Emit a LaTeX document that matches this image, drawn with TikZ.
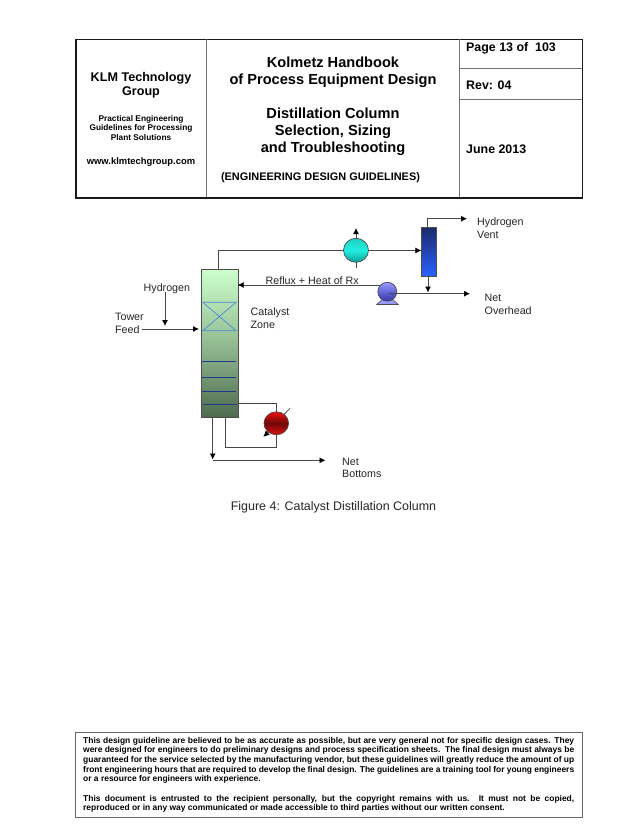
\documentclass[tikz,border=0pt]{standalone}
\usepackage{fontspec}
\setmainfont{Liberation Sans}
\usetikzlibrary{arrows.meta,shapes.geometric}
\newcommand{\fs}[2]{\fontsize{#1}{#2}\selectfont}
\definecolor{coltop}{HTML}{CCFFCC}
\definecolor{colmid}{HTML}{93BC93}
\definecolor{colbot}{HTML}{4E6A4E}
\definecolor{drumtop}{HTML}{1B2A6B}
\definecolor{drumbot}{HTML}{2A62FF}
\definecolor{traycol}{HTML}{1F3A8A}
\definecolor{packcol}{HTML}{4F86D8}
\definecolor{condtop}{HTML}{1CCFC4}
\definecolor{condmid}{HTML}{22F0E0}
\definecolor{condbot}{HTML}{0E9E98}
\definecolor{rebtop}{HTML}{F01010}
\definecolor{rebmid}{HTML}{6E0808}
\definecolor{rebbot}{HTML}{E01010}
\tikzset{
  x=1pt,y=-1pt,
  frame/.style={draw=black!90,line width=1.5pt},
  rule/.style={draw=black!55,line width=0.9pt},
  pipe/.style={draw=black!72,line width=0.8pt},
  flow/.style={pipe,-{Latex[length=6pt,width=6pt,black]}},
  lbl/.style={inner sep=0pt,align=left,text=black!85,font=\fs{10.7}{12.6}},
  hd/.style={inner sep=0pt,align=center,font=\bfseries\fs{14.6}{17}},
  hs/.style={inner sep=0pt,anchor=west,font=\bfseries\fs{12.4}{14}},
  tray/.style={draw=traycol,line width=0.8pt},
  pack/.style={draw=packcol,line width=0.7pt},
  vessel/.style={draw=black!70,line width=0.7pt,inner sep=0pt,minimum width=12pt}
}
\begin{document}
\begin{tikzpicture}
\useasboundingbox (0,0) rectangle (638,826);
\fill[white] (0,0) rectangle (638,826);
% header
\node[frame,inner sep=0pt,minimum width=506.7pt,minimum height=158.3pt,anchor=north west] (hbox) at (75,39) {};
\coordinate (v1t) at (206.7,39); \coordinate (v1b) at (206.7,197.3);
\coordinate (v2t) at (459.3,39); \coordinate (v2b) at (459.3,197.3);
\coordinate (h1l) at (459.3,68); \coordinate (h1r) at (581.7,68);
\coordinate (h2l) at (459.3,99); \coordinate (h2r) at (581.7,99);
\draw[rule] (v1t) -- (v1b);
\draw[rule] (v2t) -- (v2b);
\draw[rule] (h1l) -- (h1r);
\draw[rule] (h2l) -- (h2r);
\node[hd,font=\bfseries\fs{12.6}{14.3}] (t1) at (141,85) {KLM Technology\\Group};
\node[hd,font=\bfseries\fs{8.3}{9.6}] (t2) at (141,128) {Practical Engineering\\Guidelines for Processing\\Plant Solutions};
\node[hd,font=\bfseries\fs{9.4}{11}] (t3) at (141,162) {www.klmtechgroup.com};
\node[hd] (t4) at (333,72.3) {Kolmetz Handbook\\of Process Equipment Design};
\node[hd] (t5) at (333,131.8) {Distillation Column\\Selection, Sizing\\and Troubleshooting};
\node[hd,font=\bfseries\fs{10.95}{13}] (t6) at (320.5,177.3) {(ENGINEERING DESIGN GUIDELINES)};
\node[hs] (t7) at (466,48) {Page 13 of\ \ 103};
\node[hs] (t8) at (466,85) {Rev: 04};
\node[hs] (t9) at (466,149) {June 2013};
% column
\node[vessel,top color=coltop,bottom color=colbot,middle color=colmid,minimum width=36.7pt,minimum height=148.6pt,anchor=north west] (col) at (201,268.7) {};
\coordinate (px1) at (202.7,302.3); \coordinate (px2) at (236,302.3);
\coordinate (px3) at (202.7,330.7); \coordinate (px4) at (236,330.7);
\draw[pack] (px1) -- (px2) -- (px3) -- (px4) -- (px1);
\coordinate (tr1a) at (201.5,361.7); \coordinate (tr1b) at (235.7,361.7);
\coordinate (tr2a) at (201.5,377.3); \coordinate (tr2b) at (235.7,377.3);
\coordinate (tr3a) at (201.5,391.3); \coordinate (tr3b) at (235.7,391.3);
\coordinate (tr4a) at (202.7,404); \coordinate (tr4b) at (237.2,404);
\draw[tray] (tr1a) -- (tr1b);
\draw[tray] (tr2a) -- (tr2b);
\draw[tray] (tr3a) -- (tr3b);
\draw[tray] (tr4a) -- (tr4b);
% overhead drum
\node[vessel,top color=drumtop,bottom color=drumbot,minimum width=15pt,minimum height=49.3pt,anchor=north west] (drum) at (421.3,227) {};
% free ends and bends
\coordinate (topout) at (218.7,268.7);
\coordinate (topb) at (218.7,250.5);
\coordinate (drumin) at (421.3,250.5);
\coordinate (cwin) at (356,268);
\coordinate (cwin2) at (356,262);
\coordinate (cwst) at (356,238);
\coordinate (cwout) at (356,228);
\coordinate (vent0) at (427.3,227);
\coordinate (vent1) at (427.3,218.7);
\coordinate (vent2) at (467,218.7);
\coordinate (d0) at (428,276.3);
\coordinate (d1) at (428,292.5);
\coordinate (ov0) at (389,293.7);
\coordinate (ov1) at (470,293.7);
\coordinate (rf0) at (380,285);
\coordinate (rf1) at (237.7,285);
\coordinate (h0) at (165,292);
\coordinate (h1) at (165,326);
\coordinate (f0) at (141.7,329);
\coordinate (f1) at (199,329);
\coordinate (rb0) at (237.7,403.3);
\coordinate (rb1) at (276.7,403.3);
\coordinate (rb2) at (276.7,447.3);
\coordinate (rb3) at (225,447.3);
\coordinate (rb4) at (225,417.3);
\coordinate (bo0) at (212.7,417.3);
\coordinate (bo1) at (212.7,459.5);
\coordinate (bo2) at (212.7,460.3);
\coordinate (bo3) at (325.5,460.3);
\coordinate (u1a) at (290,408.3); \coordinate (u1b) at (284,414.5);
\coordinate (u2a) at (268.5,432); \coordinate (u2b) at (263.3,436.8);
% connectors under the equipment
\draw[pipe] (cwin) -- (cwin2);
\draw[flow] (cwst) -- (cwout);
\draw[flow] (topout) -- (topb) -- (drumin);
\draw[flow] (vent0) -- (vent1) -- (vent2);
\draw[flow] (d0) -- (d1);
\draw[flow] (rf0) -- (rf1);
\draw[flow] (h0) -- (h1);
\draw[flow] (f0) -- (f1);
\draw[pipe] (rb0) -- (rb1) -- (rb2) -- (rb3) -- (rb4);
\draw[flow] (bo0) -- (bo1);
\draw[flow] (bo2) -- (bo3);
\draw[pipe] (u1a) -- (u1b);
\draw[flow] (u2a) -- (u2b);
% exchangers and pump
\node[ellipse,draw=black!70,line width=0.7pt,inner sep=0pt,minimum width=25pt,minimum height=24pt,top color=condtop,bottom color=condbot,middle color=condmid] (cond) at (356,250.3) {};
\node[ellipse,draw=black!70,line width=0.7pt,inner sep=0pt,minimum width=24.6pt,minimum height=23pt,top color=rebtop,bottom color=rebbot,middle color=rebmid] (reb) at (276.3,423.3) {};
\coordinate (pb1) at (376.7,304.5); \coordinate (pb2) at (398.3,304.5);
\coordinate (pb3) at (391,298); \coordinate (pb4) at (384,298);
\draw[draw=black!70,line width=0.6pt,fill=blue!40!white] (pb1) -- (pb2) -- (pb3) -- (pb4) -- cycle;
\node[circle,draw=black!70,line width=0.7pt,inner sep=0pt,minimum size=19pt,top color=blue!40!white,bottom color=blue!60!black!80] (pump) at (387.3,291.7) {};
\draw[flow] (ov0) -- (ov1);
% labels
\node[lbl,anchor=north west] (l1) at (477,217.7) {Hydrogen\\Vent};
\node[lbl,anchor=north west] (l2) at (484.5,294) {Net\\Overhead};
\node[lbl,anchor=west] (l3) at (265.5,281) {Reflux + Heat of Rx};
\node[lbl,anchor=west] (l4) at (143.5,289) {Hydrogen};
\node[lbl,anchor=north west] (l5) at (115,313) {Tower\\Feed};
\node[lbl,anchor=north west] (l6) at (250.5,307.7) {Catalyst\\Zone};
\node[lbl,anchor=north west] (l7) at (342,457.5) {Net\\Bottoms};
\node[inner sep=0pt,text=black!85,font=\fs{12.45}{14}] (cap) at (333.5,507.3) {Figure 4: Catalyst Distillation Column};
% footer
\node[draw=black!60,line width=1pt,inner sep=0pt,minimum width=506.7pt,minimum height=85pt,anchor=north west] (fbox) at (75,731.7) {};
\node[inner sep=0pt,anchor=north west,text width=491pt,align=justify,font=\bfseries\fs{8.45}{9.67}] (ftext) at (83,736.8) {This design guideline are believed to be as accurate as possible, but are very general not for specific design cases. They\linebreak were designed for engineers to do preliminary designs and process specification sheets.\ \ The final design must always be\linebreak guaranteed for the service selected by the manufacturing vendor, but these guidelines will greatly reduce the amount of up\linebreak front engineering hours that are required to develop the final design. The guidelines are a training tool for young engineers\linebreak or a resource for engineers with experience.\par\vspace{9.67pt}This document is entrusted to the recipient personally, but the copyright remains with us. It must not be copied,\linebreak reproduced or in any way communicated or made accessible to third parties without our written consent.};
\end{tikzpicture}
\end{document}
